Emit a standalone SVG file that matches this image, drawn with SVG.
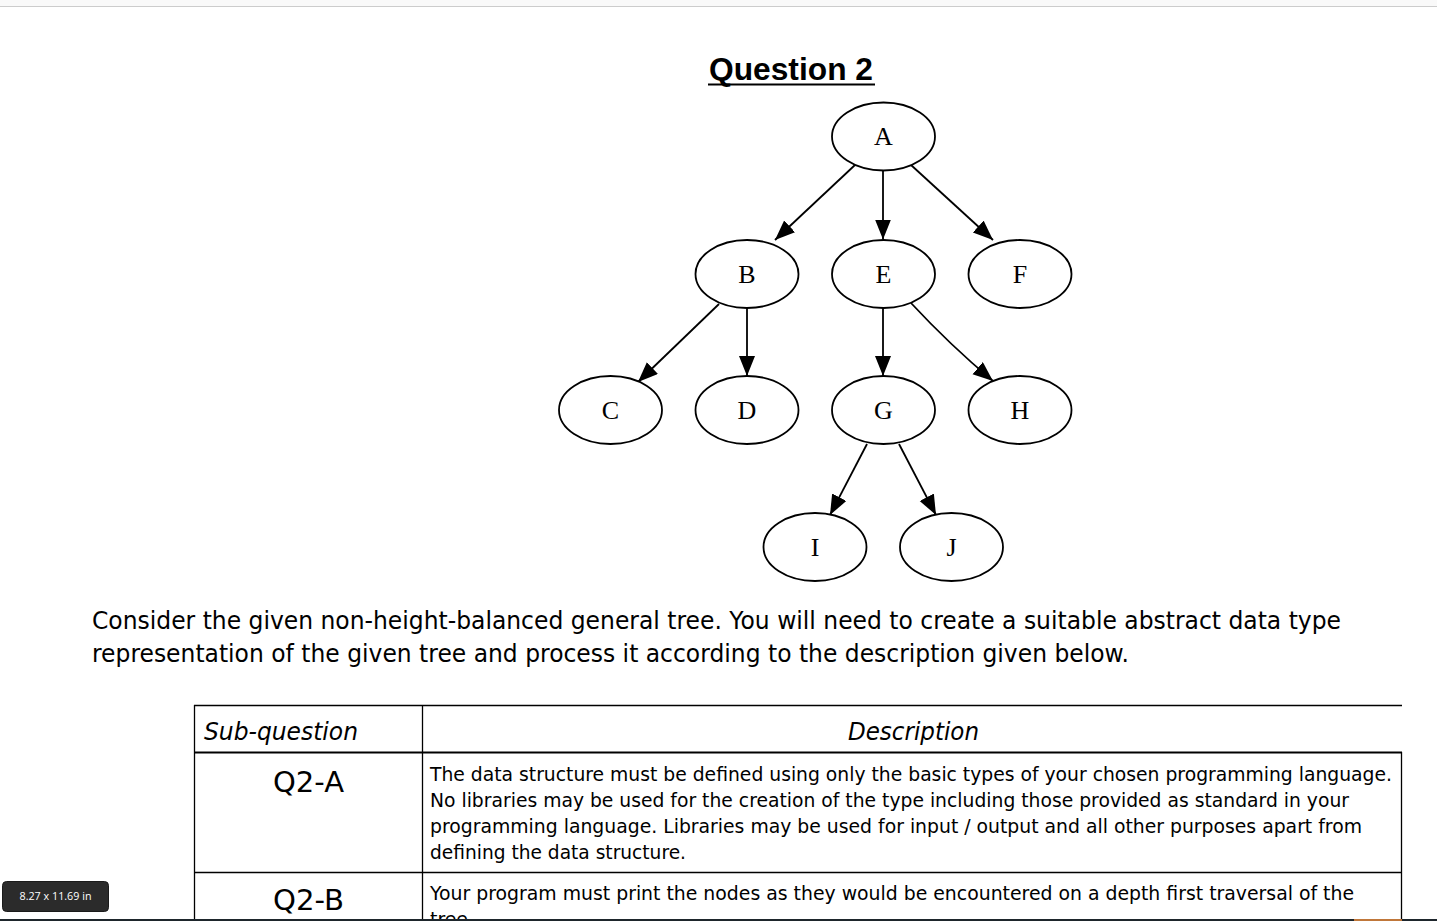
<svg xmlns="http://www.w3.org/2000/svg" width="1437" height="921" viewBox="0 0 1437 921">
<style>
.node ellipse{fill:#fff;stroke:#000;stroke-width:1.8}
.node text{font-family:"Liberation Serif","Times New Roman",serif;font-size:26px;fill:#000;text-anchor:middle}
.edge{stroke:#000;stroke-width:1.8;fill:none;marker-end:url(#arr)}
.body{font-family:"DejaVu Sans",Verdana,sans-serif;fill:#000}
.tl{stroke:#000;stroke-width:1.3}
</style>
<defs>
<marker id="arr" markerUnits="userSpaceOnUse" markerWidth="22" markerHeight="18" refX="20" refY="8" orient="auto">
<path d="M0,0 L20,8 L0,16 z" fill="#000"/>
</marker>
</defs>
<rect x="0" y="0" width="1437" height="921" fill="#fff"/>
<rect x="0" y="0" width="1437" height="6" fill="#f9f9f9"/>
<line x1="0" y1="6.5" x2="1437" y2="6.5" stroke="#cccccc" stroke-width="1.2"/>

<g id="title">
<text x="709" y="79.5" font-family="Liberation Sans, Arial, sans-serif" font-weight="bold" font-size="31" textLength="164" lengthAdjust="spacingAndGlyphs">Question 2</text>
<line x1="708" y1="84.5" x2="875" y2="84.5" stroke="#000" stroke-width="2.2"/>
</g>

<g id="edges">
<line class="edge" x1="855" y1="165" x2="775" y2="240"/>
<line class="edge" x1="883" y1="171" x2="883" y2="239.5"/>
<line class="edge" x1="911" y1="165" x2="993" y2="240"/>
<line class="edge" x1="719" y1="304" x2="638" y2="382"/>
<line class="edge" x1="747" y1="308" x2="747" y2="376"/>
<line class="edge" x1="883" y1="308" x2="883" y2="376"/>
<path class="edge" d="M911,303 Q950,345 993,381"/>
<line class="edge" x1="867" y1="444" x2="830" y2="515"/>
<line class="edge" x1="899" y1="444" x2="936" y2="515"/>
</g>

<g id="node-A" class="node"><ellipse cx="883.5" cy="136.5" rx="51.5" ry="34"/><text x="883.5" y="145">A</text></g>
<g id="node-B" class="node"><ellipse cx="747" cy="274" rx="51.5" ry="34"/><text x="747" y="282.5">B</text></g>
<g id="node-E" class="node"><ellipse cx="883.5" cy="274" rx="51.5" ry="34"/><text x="883.5" y="282.5">E</text></g>
<g id="node-F" class="node"><ellipse cx="1020" cy="274" rx="51.5" ry="34"/><text x="1020" y="282.5">F</text></g>
<g id="node-C" class="node"><ellipse cx="610.5" cy="410" rx="51.5" ry="34"/><text x="610.5" y="418.5">C</text></g>
<g id="node-D" class="node"><ellipse cx="747" cy="410" rx="51.5" ry="34"/><text x="747" y="418.5">D</text></g>
<g id="node-G" class="node"><ellipse cx="883.5" cy="410" rx="51.5" ry="34"/><text x="883.5" y="418.5">G</text></g>
<g id="node-H" class="node"><ellipse cx="1020" cy="410" rx="51.5" ry="34"/><text x="1020" y="418.5">H</text></g>
<g id="node-I" class="node"><ellipse cx="815" cy="547" rx="51.5" ry="34"/><text x="815" y="555.5">I</text></g>
<g id="node-J" class="node"><ellipse cx="951.5" cy="547" rx="51.5" ry="34"/><text x="951.5" y="555.5">J</text></g>

<g id="paragraph" class="body" font-size="25">
<text x="92" y="628.5" textLength="1249" lengthAdjust="spacingAndGlyphs">Consider the given non-height-balanced general tree. You will need to create a suitable abstract data type</text>
<text x="92" y="661.5" textLength="1037" lengthAdjust="spacingAndGlyphs">representation of the given tree and process it according to the description given below.</text>
</g>

<g id="table">
<line class="tl" x1="194" y1="705.5" x2="1402" y2="705.5"/>
<line class="tl" x1="194.5" y1="705" x2="194.5" y2="921"/>
<line class="tl" x1="422.5" y1="705" x2="422.5" y2="921"/>
<line x1="194" y1="752.5" x2="1402" y2="752.5" stroke="#000" stroke-width="2.2"/>
<line class="tl" x1="1401.5" y1="752" x2="1401.5" y2="921"/>
<line class="tl" x1="194" y1="872.5" x2="1402" y2="872.5"/>
<g class="body">
<text x="204" y="739.5" font-size="24" font-style="italic" textLength="154" lengthAdjust="spacingAndGlyphs">Sub-question</text>
<text x="848" y="739.5" font-size="24" font-style="italic" textLength="131" lengthAdjust="spacingAndGlyphs">Description</text>
<text x="273" y="792" font-size="27.5" textLength="71" lengthAdjust="spacingAndGlyphs">Q2-A</text>
<text x="273" y="910" font-size="27.5" textLength="71" lengthAdjust="spacingAndGlyphs">Q2-B</text>
<g font-size="19">
<text x="430" y="781" textLength="962" lengthAdjust="spacingAndGlyphs">The data structure must be defined using only the basic types of your chosen programming language.</text>
<text x="430" y="807" textLength="919" lengthAdjust="spacingAndGlyphs">No libraries may be used for the creation of the type including those provided as standard in your</text>
<text x="430" y="833" textLength="932" lengthAdjust="spacingAndGlyphs">programming language. Libraries may be used for input / output and all other purposes apart from</text>
<text x="430" y="859" textLength="256" lengthAdjust="spacingAndGlyphs">defining the data structure.</text>
<text x="430" y="899.5" textLength="924" lengthAdjust="spacingAndGlyphs">Your program must print the nodes as they would be encountered on a depth first traversal of the</text>
<text x="430" y="925.5" textLength="44" lengthAdjust="spacingAndGlyphs">tree.</text>
</g>
</g>
</g>

<line x1="0" y1="920" x2="1437" y2="920" stroke="#1e262c" stroke-width="2"/>
<line x1="1354" y1="920" x2="1402" y2="920" stroke="#c0773a" stroke-width="2"/>

<g id="badge">
<rect x="2.5" y="881.5" width="106" height="30" rx="4" fill="#2b2b2b" stroke="#1a1a1a" stroke-width="1"/>
<text x="55.5" y="900" font-family="Open Sans, DejaVu Sans, sans-serif" font-size="11.5" fill="#fff" text-anchor="middle" textLength="72" lengthAdjust="spacingAndGlyphs">8.27 x 11.69 in</text>
</g>
</svg>
